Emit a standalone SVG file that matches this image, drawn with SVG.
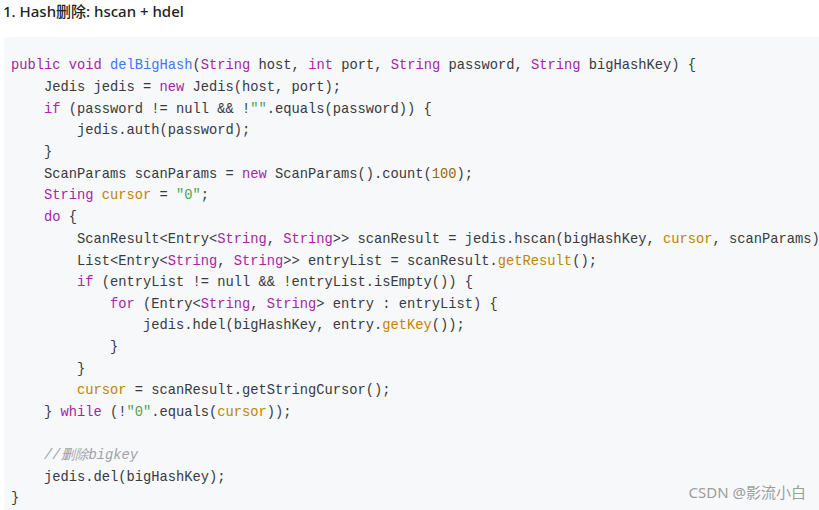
<svg xmlns="http://www.w3.org/2000/svg" width="819" height="510" viewBox="0 0 819 510">
<style>
.c{font-family:"Liberation Mono","DejaVu Sans Mono",monospace;font-size:13.75px;fill:#383a42}
.k{fill:#a626a4}.f{fill:#4078f2}.v{fill:#c18401}.s{fill:#50a14f}.n{fill:#986801}.m{fill:#a0a1a7;font-style:italic}
</style>
<rect width="819" height="510" fill="#fff"/>
<text x="3" y="17" font-family="'Noto Sans','Noto Sans CJK SC',sans-serif" font-size="15" font-weight="500" fill="#222">1. Hash删除: hscan + hdel</text>
<rect x="4" y="37" width="815" height="473" fill="#f6f8fa"/>
<g id="code" class="c">
<text x="11" y="69"><tspan class="k">public</tspan> <tspan class="k">void</tspan> <tspan class="f">delBigHash</tspan>(<tspan class="k">String</tspan> host, <tspan class="k">int</tspan> port, <tspan class="k">String</tspan> password, <tspan class="k">String</tspan> bigHashKey) {</text>
<text x="44" y="91">Jedis jedis = <tspan class="k">new</tspan> Jedis(host, port);</text>
<text x="44" y="113"><tspan class="k">if</tspan> (password != null &amp;&amp; !<tspan class="s">""</tspan>.equals(password)) {</text>
<text x="77" y="134">jedis.auth(password);</text>
<text x="44" y="156">}</text>
<text x="44" y="178">ScanParams scanParams = <tspan class="k">new</tspan> ScanParams().count(<tspan class="n">100</tspan>);</text>
<text x="44" y="199"><tspan class="k">String</tspan> <tspan class="v">cursor</tspan> = <tspan class="s">"0"</tspan>;</text>
<text x="44" y="221"><tspan class="k">do</tspan> {</text>
<text x="77" y="243">ScanResult&lt;Entry&lt;<tspan class="k">String</tspan>, <tspan class="k">String</tspan>&gt;&gt; scanResult = jedis.hscan(bigHashKey, <tspan class="v">cursor</tspan>, scanParams)</text>
<text x="77" y="265">List&lt;Entry&lt;<tspan class="k">String</tspan>, <tspan class="k">String</tspan>&gt;&gt; entryList = scanResult.<tspan class="v">getResult</tspan>();</text>
<text x="77" y="286"><tspan class="k">if</tspan> (entryList != null &amp;&amp; !entryList.isEmpty()) {</text>
<text x="110" y="308"><tspan class="k">for</tspan> (Entry&lt;<tspan class="k">String</tspan>, <tspan class="k">String</tspan>&gt; entry : entryList) {</text>
<text x="143" y="329">jedis.hdel(bigHashKey, entry.<tspan class="v">getKey</tspan>());</text>
<text x="110" y="351">}</text>
<text x="77" y="373">}</text>
<text x="77" y="394"><tspan class="v">cursor</tspan> = scanResult.getStringCursor();</text>
<text x="44" y="416">} <tspan class="k">while</tspan> (!<tspan class="s">"0"</tspan>.equals(<tspan class="v">cursor</tspan>));</text>
<text x="44" y="459" class="m">//删除bigkey</text>
<text x="44" y="481">jedis.del(bigHashKey);</text>
<text x="11" y="502">}</text>
</g>
<text x="806" y="498" text-anchor="end" font-family="'Noto Sans','Noto Sans CJK SC',sans-serif" font-size="15" fill="#8a8a8a" fill-opacity="0.85">CSDN @影流小白</text>
</svg>
